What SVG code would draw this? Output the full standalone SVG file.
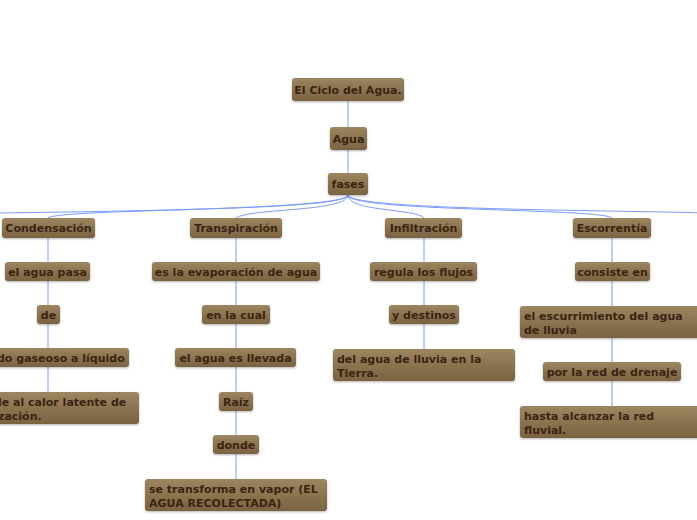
<svg xmlns="http://www.w3.org/2000/svg" width="697" height="520" viewBox="0 0 697 520">
<defs>
<linearGradient id="g" x1="0" y1="0" x2="0" y2="1"><stop offset="0" stop-color="#9b8660"/><stop offset="1" stop-color="#7a6340"/></linearGradient>
<filter id="s" x="-10%" y="-20%" width="120%" height="150%"><feDropShadow dx="0" dy="1" stdDeviation="1" flood-color="#000" flood-opacity="0.3"/></filter>
<style>
rect{fill:url(#g);filter:url(#s)}
text{font-family:"DejaVu Sans",sans-serif;font-weight:bold;font-size:11px;fill:#3b2413}
.c{text-anchor:middle}
path{fill:none;stroke:#7a9cff;stroke-width:1}
</style>
</defs>
<rect x="0" y="0" width="697" height="520" style="fill:#fff;filter:none"/>
<g id="connectors">
<path d="M348,101V127M348,150V173"/>
<path d="M348,195C348,212 60,208 48,218"/>
<path d="M348,195C348,212 -20,212 -40,214"/>
<path d="M348,195C348,212 250,208 236,218"/>
<path d="M348,195C348,212 414,208 424,218"/>
<path d="M348,195C348,212 600,208 612,218"/>
<path d="M348,195C348,212 690,210 720,214"/>
<path d="M48,238V392M236,238V479M424,238V349M612,238V406"/>
</g>
<g id="n1"><rect x="292" y="78" width="112" height="23" rx="3"/><text class="c" x="348" y="94">El Ciclo del Agua.</text></g>
<g id="n2"><rect x="330" y="127" width="37" height="23" rx="3"/><text class="c" x="348.5" y="143">Agua</text></g>
<g id="n3"><rect x="328" y="173" width="40" height="22" rx="3"/><text class="c" x="348" y="188">fases</text></g>
<g id="n4"><rect x="2" y="218" width="93" height="20" rx="3"/><text class="c" x="48.5" y="232">Condensación</text></g>
<g id="n5"><rect x="190" y="218" width="92" height="20" rx="3"/><text class="c" x="236" y="232">Transpiración</text></g>
<g id="n6"><rect x="385" y="218" width="77" height="20" rx="3"/><text class="c" x="423.5" y="232">Infiltración</text></g>
<g id="n7"><rect x="573" y="218" width="78" height="20" rx="3"/><text class="c" x="612" y="232">Escorrentía</text></g>
<g id="n8"><rect x="5" y="262" width="85" height="19" rx="3"/><text class="c" x="47.5" y="276">el agua pasa</text></g>
<g id="n9"><rect x="37" y="305" width="23" height="19" rx="3"/><text class="c" x="48.5" y="319">de</text></g>
<g id="n10"><rect x="-20" y="348" width="149" height="19" rx="3"/><text x="-3" y="362">do gaseoso a líquido</text></g>
<g id="n11"><rect x="-20" y="392" width="159" height="32" rx="3"/><text x="-2" y="406">le al calor latente de</text><text x="-2" y="420">zación.</text></g>
<g id="n12"><rect x="152" y="262" width="168" height="19" rx="3"/><text class="c" x="236" y="276">es la evaporación de agua</text></g>
<g id="n13"><rect x="202" y="305" width="68" height="19" rx="3"/><text class="c" x="236" y="319">en la cual</text></g>
<g id="n14"><rect x="175" y="348" width="121" height="19" rx="3"/><text class="c" x="235.5" y="362">el agua es llevada</text></g>
<g id="n15"><rect x="219" y="392" width="34" height="19" rx="3"/><text class="c" x="236" y="406">Raíz</text></g>
<g id="n16"><rect x="213" y="435" width="46" height="19" rx="3"/><text class="c" x="236" y="449">donde</text></g>
<g id="n17"><rect x="145" y="479" width="182" height="32" rx="3"/><text x="149" y="493">se transforma en vapor (EL</text><text x="149" y="507">AGUA RECOLECTADA)</text></g>
<g id="n18"><rect x="370" y="262" width="107" height="19" rx="3"/><text class="c" x="423.5" y="276">regula los flujos</text></g>
<g id="n19"><rect x="389" y="305" width="70" height="19" rx="3"/><text class="c" x="424" y="319">y destinos</text></g>
<g id="n20"><rect x="333" y="349" width="182" height="32" rx="3"/><text x="337" y="363">del agua de lluvia en la</text><text x="337" y="377">Tierra.</text></g>
<g id="n21"><rect x="575" y="262" width="75" height="19" rx="3"/><text class="c" x="612.5" y="276">consiste en</text></g>
<g id="n22"><rect x="520" y="306" width="190" height="32" rx="3"/><text x="524" y="320">el escurrimiento del agua</text><text x="524" y="334">de lluvia</text></g>
<g id="n23"><rect x="543" y="362" width="138" height="19" rx="3"/><text class="c" x="612" y="376">por la red de drenaje</text></g>
<g id="n24"><rect x="520" y="406" width="190" height="32" rx="3"/><text x="524" y="420">hasta alcanzar la red</text><text x="524" y="434">fluvial.</text></g>
</svg>
